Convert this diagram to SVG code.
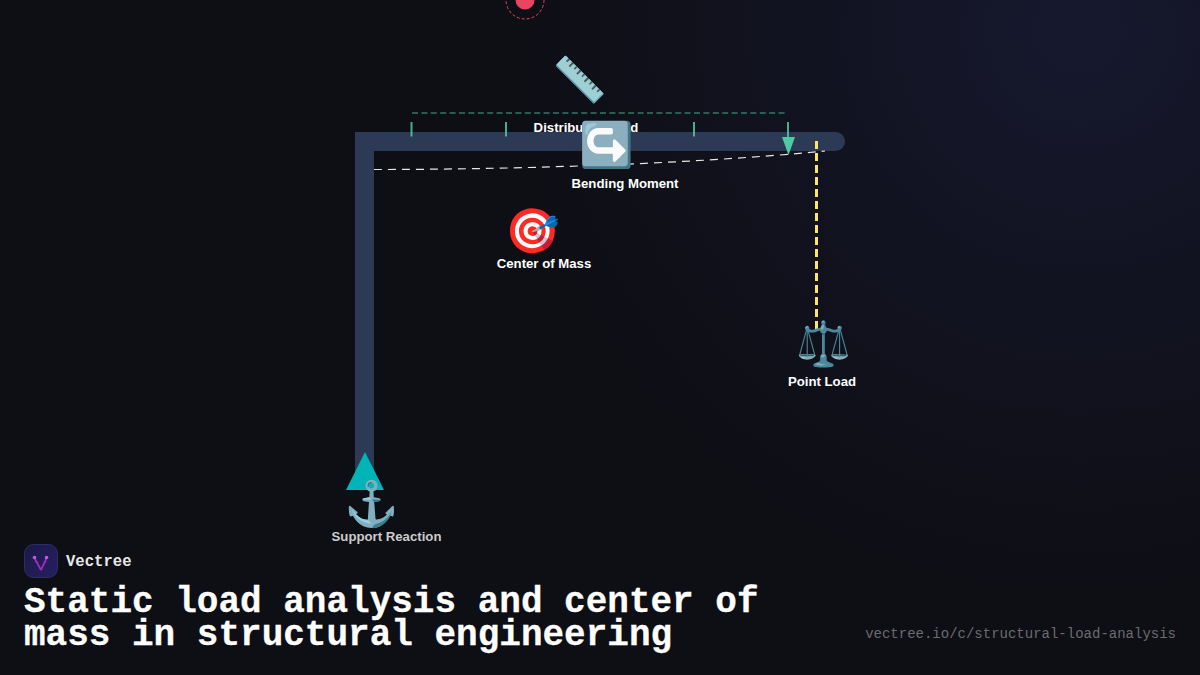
<svg xmlns="http://www.w3.org/2000/svg" width="1200" height="675" viewBox="0 0 1200 675">
<defs>
<radialGradient id="bg" gradientUnits="userSpaceOnUse" cx="1080" cy="30" r="560">
<stop offset="0" stop-color="#16182e"/><stop offset="0.4" stop-color="#131423"/><stop offset="1" stop-color="#0e0e15"/>
</radialGradient>
<linearGradient id="logo" x1="0" y1="0" x2="1" y2="1"><stop offset="0" stop-color="#1a1a48"/><stop offset="1" stop-color="#262060"/></linearGradient>
</defs>
<style>
.lbl{font-family:"Liberation Sans",Arial,sans-serif;font-size:13.200px;font-weight:700;fill:#fff;text-anchor:middle}
.emo{font-family:"Noto Color Emoji","DejaVu Sans",sans-serif;font-size:44px;text-anchor:middle}
.tick{stroke:#4ecca3;stroke-width:2;opacity:.85}
.title{font-family:"Liberation Mono",monospace;font-size:36px;font-weight:700;fill:#fff;stroke:#fff;stroke-width:.3px}
</style>
<rect width="1200" height="675" fill="#0e0e15"/>
<rect width="1200" height="675" fill="url(#bg)"/>
<g id="structure">
<path d="M364.500 480V141.500H835.500" fill="none" stroke="#2d3a55" stroke-width="19" stroke-linecap="round"/>
<path d="M355 132h10v10h-10z" fill="#2d3a55"/>
</g>
<g id="connectors">
<line x1="412" y1="113" x2="786" y2="113" stroke="#4ecca3" stroke-width="1.500" stroke-dasharray="6 3.400" opacity=".55"/>
<line class="tick" x1="411.500" y1="122" x2="411.500" y2="136.500"/>
<line class="tick" x1="506" y1="122" x2="506" y2="136.500"/>
<line class="tick" x1="600" y1="122" x2="600" y2="136.500"/>
<line class="tick" x1="694" y1="122" x2="694" y2="136.500"/>
<line class="tick" x1="788" y1="122" x2="788" y2="138"/>
<polygon points="782,137 795,137 788.500,155" fill="#4ecca3"/>
<path d="M374 169.500C500 169.500 680 165 825 151" fill="none" stroke="#fff" stroke-width="1.200" stroke-dasharray="8 6" opacity=".9"/>
<line x1="816.500" y1="141" x2="816.500" y2="330" stroke="#ffe566" stroke-width="3" stroke-dasharray="8 4"/>
<polygon points="365,452 384,490 346,490" fill="#00b4b8"/>
</g>
<g id="top-marker">
<circle cx="525" cy="0" r="19" fill="none" stroke="#e94560" stroke-width="1" stroke-dasharray="3 2"/>
<circle cx="525" cy="0" r="9.500" fill="#e94560"/>
</g>
<g id="distributed-load">
<text class="lbl" x="586" y="132">Distributed Load</text>
<text class="emo" x="580" y="95" style="filter:hue-rotate(145deg) saturate(.35) brightness(.95)">📏</text>
</g>
<g id="bending-moment">
<text class="emo" x="607" y="160">↪️</text>
<text class="lbl" x="625" y="188">Bending Moment</text>
</g>
<g id="center-of-mass">
<text class="emo" x="532.500" y="245.500">🎯</text>
<text class="lbl" x="544" y="268">Center of Mass</text>
</g>
<g id="point-load">
<text class="emo" x="824" y="358.500">⚖️</text>
<text class="lbl" x="822" y="386">Point Load</text>
</g>
<g id="support-reaction">
<text class="emo" x="372" y="518.500">⚓</text>
<text class="lbl" x="386.500" y="541" style="fill:#ccc">Support Reaction</text>
</g>
<g id="brand">
<rect x="24.500" y="544.500" width="33" height="33" rx="9" fill="url(#logo)" stroke="#2f2c6a" stroke-width="1"/>
<path d="M41 570L34.500 558M41 570L46.500 558M35 561L38 563M46 561L44 563" fill="none" stroke="#a02bc0" stroke-width="1.800"/>
<circle cx="34.500" cy="557.500" r="1.800" fill="#d050e8"/><circle cx="46.500" cy="557.500" r="1.800" fill="#d050e8"/>
<text x="66" y="566" font-family="'Liberation Mono',monospace" font-size="15.600" font-weight="700" fill="#e8e8e8">Vectree</text>
</g>
<g id="title">
<text class="title" x="24" y="612">Static load analysis and center of</text>
<text class="title" x="24" y="645">mass in structural engineering</text>
</g>
<text x="1176" y="638" text-anchor="end" font-family="'Liberation Mono',monospace" font-size="14" fill="#6b6b70">vectree.io/c/structural-load-analysis</text>
</svg>
